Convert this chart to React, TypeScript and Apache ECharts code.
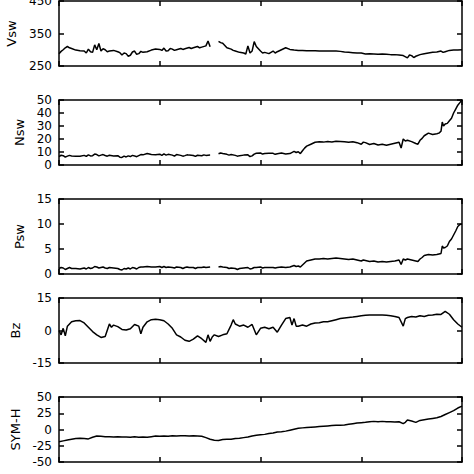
import React, { useEffect, useRef } from "react";
import * as echarts from "echarts";

// time in hours (4 days)
const vswData: [number, number | null][] = [
  [0,288],[0.5,295],[1,300],[1.5,306],[2,310],[2.5,306],[3,304],[4,299],[5,297],[6,296],[6.5,290],[7,302],[7.5,294],[8,292],[8.5,315],[9,300],[9.5,319],[10,296],[10.5,303],[11,300],[11.5,294],[12,296],[13,298],[14,294],[14.5,291],[15,284],[15.5,290],[16,288],[16.5,280],[17,283],[17.5,293],[18,296],[18.5,286],[19,288],[19.5,295],[20,292],[21,294],[22,299],[23,302],[24,301],[24.5,298],[25,305],[25.5,296],[26,297],[26.5,304],[27,302],[27.5,298],[28,300],[29,304],[29.5,301],[30,303],[31,307],[31.5,304],[32,306],[33,310],[33.5,306],[34,308],[35,312],[35.5,327],[36,309],[36.5,null],[37.5,null],[38,326],[38.5,322],[39,320],[40,306],[41,302],[41.5,298],[42,296],[43,292],[44,290],[44.5,287],[45,312],[45.5,290],[46,296],[46.5,325],[47,310],[48,296],[48.5,290],[49,292],[50,288],[51,296],[51.5,290],[52,294],[53,300],[54,306],[55,301],[56,299],[57,298],[58,298],[59,297],[60,297],[61,297],[62,296],[63,296],[64,296],[65,296],[66,296],[67,295],[68,293],[69,292],[70,291],[71,290],[72,290],[73,287],[74,288],[75,287],[76,286],[77,287],[78,286],[79,285],[80,285],[81,284],[82,282],[83,275],[83.5,284],[84,282],[84.5,276],[85,280],[86,285],[87,288],[88,290],[89,292],[90,293],[91,296],[91.5,292],[92,294],[93,298],[94,299],[95,299],[96,300]
];

const nswData: [number, number | null][] = [
  [0,6.5],[0.5,7.5],[1,7.2],[1.5,6.0],[2,6.8],[2.5,7.4],[3,7.0],[4,6.8],[5,6.8],[6,7.4],[6.5,6.6],[7,7.8],[7.5,7.0],[8,7.2],[8.5,8.4],[9,8.0],[9.5,7.0],[10,7.6],[10.5,8.0],[11,7.3],[11.5,6.8],[12,7.5],[13,7.0],[14,7.2],[14.5,6.0],[15,5.8],[15.5,6.8],[16,6.2],[16.5,7.0],[17,6.5],[17.5,7.4],[18,7.0],[18.5,6.4],[19,7.2],[19.5,8.0],[20,7.8],[21,8.8],[22,8.0],[23,7.8],[24,8.3],[24.5,7.4],[25,8.5],[25.5,7.6],[26,8.2],[27,7.6],[27.5,6.8],[28,8.0],[29,7.4],[29.5,6.8],[30,7.2],[30.5,7.8],[31,7.6],[32,7.3],[32.5,6.6],[33,7.5],[34,7.1],[34.5,7.8],[35,7.4],[36,7.6],[36.5,null],[37.5,null],[38,8.6],[38.5,9.2],[39,8.8],[40,8.2],[40.5,7.6],[41,8.0],[42,7.4],[42.5,6.8],[43,7.2],[44,7.6],[45,7.8],[45.5,6.5],[46,7.0],[46.5,8.4],[47,9.0],[48,9.2],[48.5,8.4],[49,8.8],[50,9.1],[51,9.0],[51.5,8.2],[52,8.7],[53,9.2],[54,8.5],[55,8.8],[56,10.5],[56.5,9.6],[57,10.2],[57.5,8.8],[58,11.0],[58.5,13.0],[59,14.5],[60,16.0],[61,17.5],[62,17.8],[63,17.6],[64,18.0],[65,17.7],[66,18.3],[67,18.1],[68,17.9],[69,17.5],[70,17.8],[71,17.2],[72,16.0],[72.5,17.6],[73,17.2],[74,15.8],[75,16.5],[76,15.4],[77,16.0],[78,15.2],[79,16.0],[80,16.8],[81,17.5],[81.5,13.0],[82,20.0],[82.5,18.5],[83,19.0],[84,18.0],[85,16.5],[85.5,16.0],[86,19.0],[86.5,20.5],[87,22.5],[88,24.5],[89,23.5],[90,24.0],[90.5,24.5],[91,26.0],[91.3,33.0],[91.6,30.0],[92,31.5],[92.5,32.0],[93,34.0],[93.5,36.0],[94,40.0],[94.5,43.0],[95,46.0],[95.5,48.0],[96,50.0]
];

const pswData: [number, number | null][] = [
  [0,1.1],[0.5,1.3],[1,1.2],[1.5,0.9],[2,1.1],[2.5,1.3],[3,1.1],[4,1.1],[5,1.0],[6,1.2],[6.5,1.0],[7,1.3],[7.5,1.1],[8,1.2],[8.5,1.5],[9,1.4],[9.5,1.2],[10,1.3],[10.5,1.4],[11,1.2],[11.5,1.1],[12,1.3],[13,1.2],[14,1.1],[14.5,0.9],[15,0.8],[15.5,1.1],[16,1.0],[16.5,1.2],[17,1.0],[17.5,1.3],[18,1.2],[18.5,1.0],[19,1.3],[19.5,1.4],[20,1.4],[21,1.5],[22,1.4],[23,1.4],[24,1.5],[24.5,1.3],[25,1.5],[25.5,1.3],[26,1.4],[27,1.3],[27.5,1.2],[28,1.4],[29,1.3],[29.5,1.1],[30,1.3],[30.5,1.4],[31,1.3],[32,1.3],[32.5,1.1],[33,1.3],[34,1.3],[34.5,1.4],[35,1.3],[36,1.4],[36.5,null],[37.5,null],[38,1.4],[38.5,1.5],[39,1.4],[40,1.3],[40.5,1.1],[41,1.2],[42,1.1],[42.5,0.9],[43,1.1],[44,1.2],[45,1.3],[45.5,1.0],[46,1.1],[46.5,1.3],[47,1.3],[48,1.4],[48.5,1.2],[49,1.3],[50,1.3],[51,1.3],[51.5,1.2],[52,1.3],[53,1.4],[54,1.3],[55,1.4],[56,1.7],[56.5,1.5],[57,1.6],[57.5,1.4],[58,1.8],[58.5,2.2],[59,2.6],[60,2.8],[61,3.0],[62,3.0],[63,3.1],[64,3.0],[65,3.1],[66,3.2],[67,3.1],[68,3.0],[69,2.9],[70,3.0],[71,2.8],[72,2.6],[72.5,2.8],[73,2.7],[74,2.5],[75,2.6],[76,2.4],[77,2.5],[78,2.4],[79,2.5],[80,2.6],[81,2.8],[81.5,1.9],[82,3.0],[82.5,2.8],[83,3.0],[84,2.8],[85,2.6],[85.5,2.5],[86,3.0],[86.5,3.3],[87,3.7],[88,3.9],[89,3.8],[90,3.9],[90.5,4.0],[91,4.1],[91.3,5.6],[91.6,5.2],[92,5.3],[92.5,5.6],[93,6.5],[93.5,7.0],[94,7.8],[94.5,8.6],[95,9.5],[95.5,9.9],[96,10.0]
];

const bzData: [number, number][] = [
  [0,0.0],[0.5,-2.0],[1,1.0],[1.5,-2.5],[2,2.0],[3,4.0],[4,4.5],[5,4.6],[6,3.5],[7,1.5],[8,-0.5],[9,-2.0],[10,-3.2],[11,-2.8],[12,3.0],[12.5,1.5],[13,2.5],[14,1.8],[15,0.5],[16,0.2],[17,0.8],[18,2.8],[19,2.0],[19.5,-1.5],[20,1.5],[21,4.0],[22,5.0],[23,5.2],[24,5.0],[25,4.5],[26,3.0],[27,1.0],[28,-2.0],[29,-3.0],[30,-4.5],[31,-5.0],[32,-4.0],[33,-2.5],[34,-3.8],[35,-5.5],[35.5,-2.0],[36,-5.0],[36.5,-3.0],[37,-2.0],[38,-2.8],[39,-2.0],[40,-1.5],[41,2.5],[41.5,5.0],[42,3.0],[43,2.0],[44,2.5],[45,1.5],[46,2.8],[47,-2.0],[48,1.0],[49,1.5],[50,0.8],[51,1.5],[52,-0.8],[53,2.5],[54,5.5],[55,6.0],[55.5,2.5],[56,5.5],[56.5,2.0],[57,2.0],[58,2.5],[59,2.0],[60,3.0],[61,3.5],[62,3.6],[63,4.0],[64,4.0],[65,4.5],[66,5.0],[67,5.5],[68,5.8],[69,6.0],[70,6.2],[71,6.5],[72,6.8],[73,7.0],[74,7.1],[75,7.2],[76,7.2],[77,7.1],[78,7.0],[79,6.8],[80,6.5],[81,6.0],[82,2.0],[82.5,5.5],[83,6.0],[84,6.5],[85,6.2],[86,6.8],[87,6.5],[88,7.0],[89,7.2],[90,7.5],[91,7.4],[92,8.8],[93,7.5],[94,5.0],[95,3.0],[96,1.5]
];

const symhData: [number, number][] = [
  [0,-19],[1,-17.5],[2,-16],[3,-15],[4,-14],[5,-13.5],[6,-14],[7,-14.5],[8,-12],[9,-10],[10,-10.5],[11,-11],[12,-11],[13,-11.5],[14,-11],[15,-11.5],[16,-11.5],[17,-12],[18,-11],[19,-12],[20,-11.5],[21,-12],[22,-11],[23,-10],[24,-10.5],[25,-10],[26,-10.5],[27,-9.5],[28,-10],[29,-9.5],[30,-9.5],[31,-10],[32,-9.5],[33,-10],[34,-10.5],[35,-12.5],[36,-15],[37,-16.5],[38,-17],[39,-15.5],[40,-15],[41,-15],[42,-14],[43,-13.5],[44,-12.5],[45,-11.5],[46,-10],[47,-9],[48,-8],[49,-7.5],[50,-6],[51,-5.5],[52,-4],[53,-3.5],[54,-2.5],[55,-1],[56,0.5],[57,2],[58,2.5],[59,3],[60,3.5],[61,4],[62,4.5],[63,5],[64,5.5],[65,6],[66,6.5],[67,6.5],[68,7],[69,8],[70,9],[71,10],[72,10.5],[73,11],[74,12],[75,12.5],[76,12],[77,12.5],[78,12],[79,12],[80,11.5],[81,12],[82,9],[82.5,11],[83,14.5],[84,13],[85,11],[86,14],[87,15],[88,16],[89,17],[90,18],[91,20],[92,23],[93,26],[94,29],[95,33],[96,36]
];

const panelNames = ["Vsw", "Nsw", "Psw", "Bz", "SYM-H"];
const yMins = [250, 0, 0, -15, -50];
const yMaxs = [450, 50, 15, 15, 50];
const yIntervals = [100, 10, 5, 15, 25];
const xMin = 0;
const xMax = 96;
const xInterval = 24;

export default function App() {
  const ref = useRef<HTMLDivElement>(null);
  useEffect(() => {
    if (!ref.current) return;
    const chart = echarts.init(ref.current, null, { renderer: "svg" });
    const datasets = [vswData, nswData, pswData, bzData, symhData];
    const layout = [
      { top: 1, height: 65 },
      { top: 100, height: 65 },
      { top: 199, height: 75 },
      { top: 298, height: 65 },
      { top: 397, height: 65 },
    ];
    const nameGaps = [34, 27, 27, 27, 27];
    const font = "DejaVu Sans";
    const mkLine = () => ({ show: true, onZero: false, lineStyle: { color: "#000", width: 1.5 } });
    const mkTick = () => ({ show: true, inside: true, length: 5, lineStyle: { color: "#000", width: 1.5 } });
    const grid: any[] = [];
    const xAxis: any[] = [];
    const yAxis: any[] = [];
    const series: any[] = [];
    layout.forEach((l, i) => {
      grid.push({ left: 59, right: 12, top: l.top, height: l.height, outerBoundsMode: "none", containLabel: false });
      ["bottom", "top"].forEach((pos) => {
        xAxis.push({
          type: "value", gridIndex: i, position: pos, min: xMin, max: xMax, interval: xInterval,
          axisLine: mkLine(), axisTick: mkTick(), axisLabel: { show: false }, splitLine: { show: false },
        });
      });
      ["left", "right"].forEach((pos) => {
        yAxis.push({
          type: "value", gridIndex: i, position: pos, min: yMins[i], max: yMaxs[i], interval: yIntervals[i],
          name: pos === "left" ? panelNames[i] : "", nameLocation: "middle", nameGap: nameGaps[i], nameRotate: 90,
          nameTextStyle: { fontFamily: font, fontSize: 13, color: "#000" },
          axisLine: mkLine(), axisTick: mkTick(), splitLine: { show: false },
          axisLabel: { show: pos === "left", fontFamily: font, fontSize: 12, color: "#000", margin: 7, hideOverlap: false, lineHeight: 12 },
        });
      });
      series.push({
        type: "line", xAxisIndex: i * 2, yAxisIndex: i * 2, data: datasets[i],
        showSymbol: false, connectNulls: false, lineStyle: { color: "#000", width: 1.5 },
      });
    });
    chart.setOption({ animation: false, grid, xAxis, yAxis, series });
    return () => chart.dispose();
  }, []);
  return <div ref={ref} style={{ position: "fixed", left: 0, top: 0, width: 474, height: 474, background: "#fff" }} />;
}
